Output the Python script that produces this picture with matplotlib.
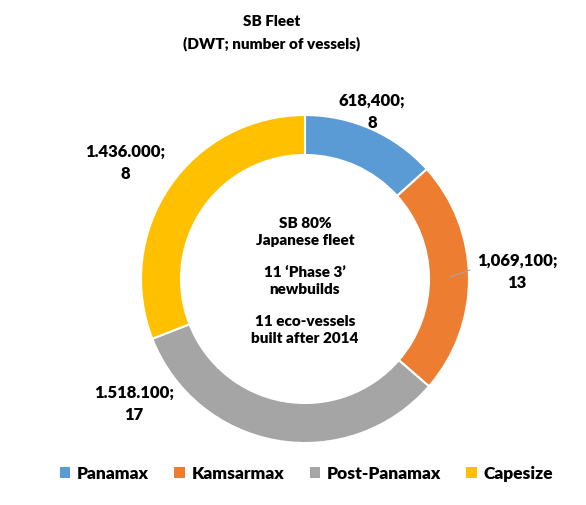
import matplotlib
matplotlib.use("Agg")
import matplotlib.pyplot as plt
from matplotlib.patches import Patch

plt.rcParams['font.family'] = ['Lato', 'DejaVu Sans']
WT = 'heavy'

# fleet data (DWT; number of vessels)
categories = ['Panamax', 'Kamsarmax', 'Post-Panamax', 'Capesize']
dwt = [618400, 1069100, 1518100, 1436000]
vessels = [8, 13, 17, 8]
dwt_labels = ['618,400', '1,069,100', '1.518.100', '1.436.000']
colors = ['#5B9BD5', '#ED7D31', '#A5A5A5', '#FFC000']
centre_note = "SB 80%\nJapanese fleet\n\n11 \u2018Phase 3\u2019\nnewbuilds\n\n11 eco-vessels\nbuilt after 2014"

W, H = 586, 505
fig = plt.figure(figsize=(W / 100, H / 100), dpi=100)
ax = fig.add_axes([0, 0, 1, 1])

cx, cy, r = 305, H - 279, 164
wedges, _ = ax.pie(dwt, colors=colors, startangle=90, counterclock=False,
                   center=(cx, cy), radius=r, frame=True,
                   wedgeprops=dict(width=40, edgecolor='white', linewidth=1.5))
ax.set_xlim(0, W)
ax.set_ylim(0, H)
ax.set_aspect('equal')
ax.axis('off')

# data labels (pixel positions from the top)
label_pos = [(372, 112), (517, 272), (134, 404), (125, 163)]
for (x, y), lab, n in zip(label_pos, dwt_labels, vessels):
    ax.text(x, H - y, f"{lab};\n{n}", ha='center', va='center',
            fontsize=12, fontweight=WT, linespacing=1.45)

# small leader line for Kamsarmax
ax.plot([450, 470], [H - 277, H - 270], color='#A5A5A5', lw=0.8)

ax.text(cx, H - 281, centre_note, ha='center', va='center', fontsize=11,
        fontweight=WT, linespacing=1.3)

ax.text(272, H - 21, "SB Fleet", ha='center', va='center', fontsize=11, fontweight=WT)
ax.text(272, H - 44, "(DWT; number of vessels)", ha='center', va='center',
        fontsize=11, fontweight=WT)

handles = [Patch(facecolor=c, edgecolor='none') for c in colors]
fig.legend(handles, categories, loc='center', bbox_to_anchor=(0.523, 1 - 474 / H),
           ncol=4, frameon=False, handlelength=0.6, handleheight=0.6,
           handletextpad=0.4, columnspacing=1.45, prop={'weight': WT, 'size': 12.5})

fig.savefig('out.png', dpi=100)
